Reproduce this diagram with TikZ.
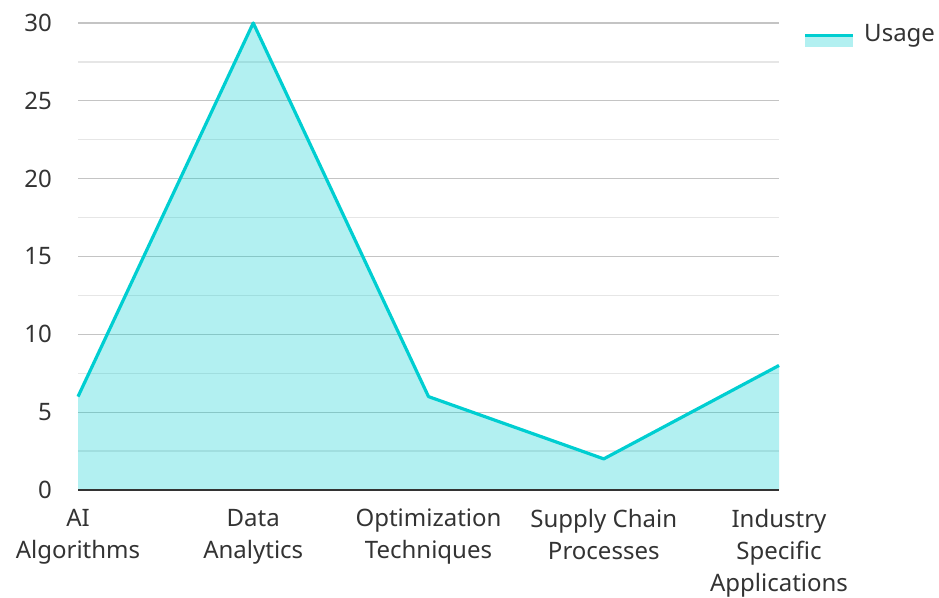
\documentclass[tikz,border=0pt]{standalone}
\usepackage{fontspec}
\setmainfont{Noto Sans}
\definecolor{txt}{HTML}{333333}
\definecolor{lineC}{HTML}{00CED1}
\definecolor{majg}{HTML}{C4C4C4}
\definecolor{ming}{HTML}{E6E6E6}
\begin{document}
\begin{tikzpicture}[x=1pt,y=-1pt,
  lab/.style={font=\fontsize{24}{32}\selectfont,text=txt,inner sep=0pt},
  ylab/.style={lab,anchor=east},
  xlab/.style={lab,anchor=north,align=center},
  major/.style={draw=majg,line width=1.2pt},
  minor/.style={draw=ming,line width=1.2pt}]
\useasboundingbox (0,0) rectangle (939,597);
% grid
\foreach \v in {2.5,7.5,...,27.5} \draw[minor] (78,{490-\v*15.567}) -- (779,{490-\v*15.567});
\foreach \v in {5,10,...,30} \draw[major] (78,{490-\v*15.567}) -- (779,{490-\v*15.567});
% data points
\coordinate (p1) at (78,{490-6*15.567});
\coordinate (p2) at (253.25,{490-30*15.567});
\coordinate (p3) at (428.5,{490-6*15.567});
\coordinate (p4) at (603.75,{490-2*15.567});
\coordinate (p5) at (779,{490-8*15.567});
\coordinate (b1) at (78,490);
\coordinate (b5) at (779,490);
\fill[lineC,fill opacity=0.3] (b1) -- (p1) -- (p2) -- (p3) -- (p4) -- (p5) -- (b5) -- cycle;
\draw[lineC,line width=3.2pt,line join=round] (p1) -- (p2) -- (p3) -- (p4) -- (p5);
\draw[txt,line width=2pt] (b1) -- (b5);
% y labels
\foreach \v in {0,5,...,30} \node[ylab] (y\v) at (52,{490-\v*15.567}) {\v};
% x labels
\node[xlab] (x1) at (78,509) {AI\\Algorithms};
\node[xlab] (x2) at (253.25,509) {Data\\Analytics};
\node[xlab] (x3) at (428.5,509) {Optimization\\Techniques};
\node[xlab] (x4) at (603.75,509) {Supply Chain\\Processes};
\node[xlab] (x5) at (779,509) {Industry\\Specific\\Applications};
% legend
\fill[lineC,fill opacity=0.3] (805,35) rectangle (853,47);
\draw[lineC,line width=3pt] (805,35) -- (853,35);
\node[lab,anchor=west] (leg) at (864,36) {Usage};
\end{tikzpicture}
\end{document}
